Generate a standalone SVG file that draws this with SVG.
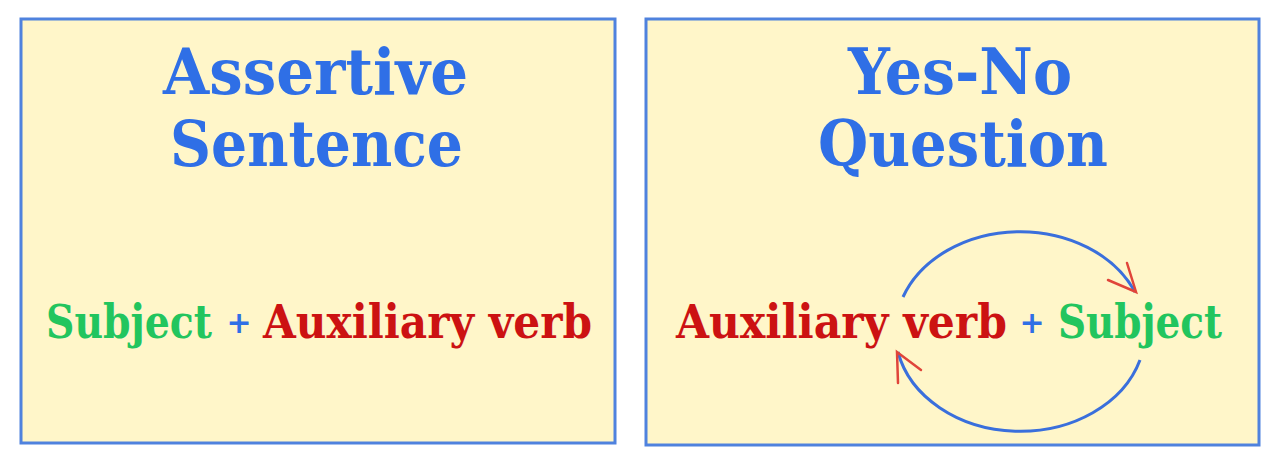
<svg xmlns="http://www.w3.org/2000/svg" width="1280" height="464" viewBox="0 0 1280 464">
<style>
.box{fill:#fff6c9;stroke:#4f82de;stroke-width:3}
.title{font-family:"DejaVu Serif","Liberation Serif",serif;font-size:64px;font-weight:bold;fill:#2f6fe6}
.body{font-family:"DejaVu Serif Condensed","DejaVu Serif","Liberation Serif",serif;font-stretch:condensed;font-size:47px;font-weight:bold}
.green{fill:#22c55e}
.red{fill:#cc1212}
.plus{font-family:"DejaVu Sans","Liberation Sans",sans-serif;font-size:30px;font-weight:bold;fill:#2f6fe6;text-anchor:middle}
.arc{fill:none;stroke:#3a6fdc;stroke-width:3}
.head{fill:none;stroke:#e0453a;stroke-width:2.5;stroke-linecap:round}
</style>
<rect width="1280" height="464" fill="#ffffff"/>
<g id="assertive">
<rect class="box" x="21" y="19" width="594" height="424"/>
<text class="title" x="163" y="94" textLength="305" lengthAdjust="spacingAndGlyphs">Assertive</text>
<text class="title" x="170" y="166" textLength="293" lengthAdjust="spacingAndGlyphs">Sentence</text>
<text class="body green" x="46" y="338" textLength="166" lengthAdjust="spacingAndGlyphs">Subject</text>
<text class="plus" x="239" y="333">+</text>
<text class="body red" x="263" y="338" textLength="329" lengthAdjust="spacingAndGlyphs">Auxiliary verb</text>
</g>
<g id="yesno">
<rect class="box" x="646" y="19" width="613" height="426"/>
<text class="title" x="848" y="94" textLength="224" lengthAdjust="spacingAndGlyphs">Yes-No</text>
<text class="title" x="818" y="166" textLength="290" lengthAdjust="spacingAndGlyphs">Question</text>
<text class="body red" x="676" y="338" textLength="331" lengthAdjust="spacingAndGlyphs">Auxiliary verb</text>
<text class="plus" x="1032" y="333">+</text>
<text class="body green" x="1058" y="338" textLength="164" lengthAdjust="spacingAndGlyphs">Subject</text>
</g>
<g id="connectors">
<path class="arc" d="M903,297 A125,100 0 0 1 1135,292"/>
<path class="head" d="M1127,263 L1136,292 L1108,280"/>
<path class="arc" d="M1140,360 A125,100 0 0 1 898,352"/>
<path class="head" d="M898,383 L897,352 L921,370"/>
</g>
</svg>
